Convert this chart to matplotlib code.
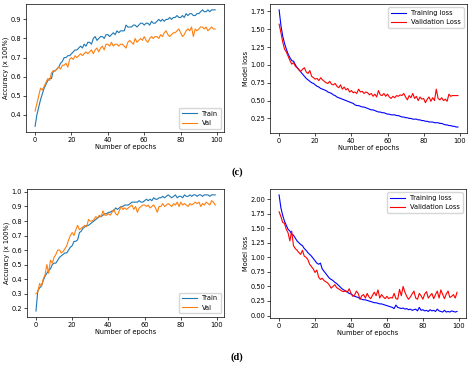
import numpy as np
import matplotlib
matplotlib.use('Agg')
import matplotlib.pyplot as plt

epochs = np.arange(100)

# (c) accuracy
train_acc_c = [0.34, 0.40, 0.44, 0.48, 0.51, 0.54, 0.56, 0.58, 0.59, 0.59,
               0.63, 0.63, 0.64, 0.65, 0.67, 0.68, 0.70, 0.70, 0.71, 0.71,
               0.72, 0.73, 0.74, 0.74, 0.75, 0.76, 0.75, 0.77, 0.76, 0.78,
               0.78, 0.77, 0.80, 0.81, 0.79, 0.80, 0.81, 0.81, 0.80, 0.82,
               0.82, 0.81, 0.82, 0.83, 0.82, 0.84, 0.83, 0.84, 0.84, 0.84,
               0.87, 0.86, 0.86, 0.86, 0.87, 0.87, 0.86, 0.87, 0.88, 0.88,
               0.87, 0.88, 0.88, 0.87, 0.89, 0.88, 0.88, 0.89, 0.90, 0.89,
               0.90, 0.89, 0.90, 0.90, 0.91, 0.90, 0.91, 0.91, 0.92, 0.91,
               0.91, 0.92, 0.91, 0.93, 0.92, 0.93, 0.93, 0.92, 0.92, 0.93,
               0.93, 0.94, 0.95, 0.94, 0.94, 0.95, 0.94, 0.95, 0.95, 0.95]
val_acc_c = [0.42, 0.46, 0.50, 0.54, 0.53, 0.55, 0.57, 0.59, 0.58, 0.62,
             0.63, 0.63, 0.64, 0.65, 0.64, 0.66, 0.66, 0.67, 0.65, 0.69,
             0.70, 0.69, 0.71, 0.70, 0.71, 0.72, 0.71, 0.72, 0.73, 0.72,
             0.73, 0.74, 0.72, 0.74, 0.75, 0.73, 0.75, 0.76, 0.74, 0.77,
             0.77, 0.76, 0.78, 0.76, 0.77, 0.77, 0.76, 0.77, 0.77, 0.76,
             0.75, 0.78, 0.79, 0.78, 0.77, 0.80, 0.78, 0.79, 0.80, 0.79,
             0.81, 0.79, 0.78, 0.80, 0.81, 0.80, 0.81, 0.81, 0.80, 0.82,
             0.81, 0.83, 0.84, 0.82, 0.81, 0.82, 0.83, 0.83, 0.84, 0.85,
             0.83, 0.81, 0.82, 0.84, 0.85, 0.84, 0.86, 0.81, 0.85, 0.84,
             0.85, 0.86, 0.86, 0.85, 0.86, 0.84, 0.85, 0.86, 0.85, 0.85]

# (c) loss
train_loss_c = [1.77, 1.55, 1.40, 1.30, 1.22, 1.15, 1.10, 1.06, 1.05, 1.00,
                0.96, 0.93, 0.90, 0.87, 0.84, 0.81, 0.79, 0.77, 0.75, 0.74,
                0.72, 0.70, 0.69, 0.67, 0.66, 0.65, 0.64, 0.62, 0.61, 0.60,
                0.58, 0.57, 0.55, 0.54, 0.53, 0.52, 0.51, 0.50, 0.49, 0.48,
                0.47, 0.46, 0.44, 0.43, 0.43, 0.42, 0.41, 0.41, 0.40, 0.39,
                0.38, 0.37, 0.37, 0.36, 0.35, 0.34, 0.34, 0.33, 0.33, 0.32,
                0.31, 0.31, 0.30, 0.30, 0.30, 0.29, 0.29, 0.28, 0.27, 0.27,
                0.26, 0.26, 0.25, 0.25, 0.24, 0.24, 0.24, 0.23, 0.23, 0.22,
                0.22, 0.21, 0.21, 0.20, 0.20, 0.20, 0.19, 0.19, 0.19, 0.18,
                0.18, 0.17, 0.16, 0.16, 0.15, 0.15, 0.14, 0.14, 0.13, 0.13]
val_loss_c = [1.57, 1.45, 1.32, 1.22, 1.18, 1.12, 1.06, 1.01, 1.03, 0.98,
              0.96, 0.93, 0.91, 0.94, 0.96, 0.90, 0.88, 0.92, 0.84, 0.82,
              0.80, 0.81, 0.78, 0.82, 0.79, 0.77, 0.75, 0.74, 0.77, 0.73,
              0.72, 0.74, 0.70, 0.68, 0.72, 0.66, 0.69, 0.65, 0.67, 0.62,
              0.64, 0.61, 0.62, 0.60, 0.66, 0.62, 0.63, 0.60, 0.62, 0.61,
              0.58, 0.60, 0.56, 0.59, 0.55, 0.64, 0.58, 0.57, 0.60, 0.56,
              0.59, 0.55, 0.53, 0.56, 0.54, 0.57, 0.56, 0.58, 0.57, 0.60,
              0.55, 0.51, 0.57, 0.54, 0.60, 0.53, 0.56, 0.50, 0.55, 0.52,
              0.53, 0.47, 0.52, 0.55, 0.49, 0.54, 0.50, 0.66, 0.53, 0.51,
              0.54, 0.50, 0.52, 0.49, 0.59, 0.56, 0.57, 0.57, 0.57, 0.57]

# (d) accuracy
train_acc_d = [0.18, 0.32, 0.34, 0.35, 0.39, 0.42, 0.44, 0.46, 0.47, 0.50,
               0.51, 0.51, 0.53, 0.55, 0.56, 0.57, 0.58, 0.58, 0.60, 0.62,
               0.63, 0.66, 0.66, 0.67, 0.72, 0.73, 0.75, 0.76, 0.77, 0.77,
               0.78, 0.79, 0.80, 0.81, 0.82, 0.83, 0.83, 0.84, 0.85, 0.85,
               0.86, 0.86, 0.87, 0.87, 0.89, 0.88, 0.89, 0.90, 0.90, 0.91,
               0.91, 0.91, 0.92, 0.93, 0.93, 0.93, 0.93, 0.94, 0.93, 0.93,
               0.94, 0.95, 0.94, 0.95, 0.94, 0.96, 0.95, 0.95, 0.96, 0.96,
               0.97, 0.96, 0.97, 0.98, 0.97, 0.96, 0.97, 0.98, 0.96, 0.97,
               0.97, 0.96, 0.98, 0.97, 0.97, 0.98, 0.97, 0.98, 0.98, 0.97,
               0.98, 0.98, 0.97, 0.98, 0.98, 0.98, 0.97, 0.98, 0.98, 0.98]
val_acc_d = [0.30, 0.31, 0.37, 0.35, 0.40, 0.43, 0.50, 0.44, 0.53, 0.51,
             0.55, 0.57, 0.60, 0.60, 0.58, 0.59, 0.61, 0.63, 0.67, 0.70,
             0.72, 0.70, 0.74, 0.77, 0.74, 0.75, 0.76, 0.77, 0.76, 0.81,
             0.80, 0.80, 0.81, 0.83, 0.82, 0.84, 0.83, 0.87, 0.84, 0.84,
             0.85, 0.84, 0.86, 0.88, 0.85, 0.84, 0.87, 0.90, 0.88, 0.89,
             0.88, 0.89, 0.90, 0.91, 0.88, 0.90, 0.86, 0.89, 0.90, 0.91,
             0.91, 0.90, 0.91, 0.89, 0.90, 0.91, 0.89, 0.86, 0.90, 0.90,
             0.92, 0.90, 0.91, 0.92, 0.91, 0.90, 0.92, 0.91, 0.93, 0.90,
             0.93, 0.91, 0.92, 0.91, 0.90, 0.92, 0.91, 0.92, 0.93, 0.92,
             0.93, 0.90, 0.92, 0.91, 0.93, 0.92, 0.91, 0.94, 0.93, 0.91]

# (d) loss
train_loss_d = [2.07, 1.85, 1.72, 1.62, 1.55, 1.48, 1.45, 1.40, 1.38, 1.33,
                1.28, 1.25, 1.22, 1.20, 1.15, 1.12, 1.08, 1.05, 1.02, 0.98,
                0.94, 0.90, 0.88, 0.90, 0.80, 0.76, 0.72, 0.68, 0.64, 0.62,
                0.60, 0.57, 0.55, 0.52, 0.49, 0.46, 0.44, 0.42, 0.40, 0.38,
                0.37, 0.35, 0.33, 0.32, 0.31, 0.29, 0.28, 0.27, 0.27, 0.26,
                0.25, 0.24, 0.23, 0.22, 0.22, 0.21, 0.20, 0.20, 0.19, 0.18,
                0.17, 0.16, 0.15, 0.14, 0.12, 0.18, 0.14, 0.13, 0.12, 0.13,
                0.11, 0.12, 0.10, 0.11, 0.09, 0.10, 0.11, 0.08, 0.14, 0.09,
                0.10, 0.08, 0.09, 0.07, 0.10, 0.08, 0.09, 0.07, 0.11, 0.08,
                0.07, 0.06, 0.09, 0.06, 0.07, 0.06, 0.08, 0.07, 0.06, 0.07]
val_loss_d = [1.78, 1.70, 1.60, 1.58, 1.48, 1.42, 1.28, 1.45, 1.20, 1.15,
              1.12, 1.08, 1.05, 1.12, 1.02, 1.00, 0.96, 0.88, 0.84, 0.80,
              0.74, 0.78, 0.66, 0.62, 0.64, 0.60, 0.58, 0.56, 0.52, 0.47,
              0.50, 0.53, 0.48, 0.46, 0.44, 0.42, 0.41, 0.43, 0.40, 0.46,
              0.38, 0.33, 0.35, 0.42, 0.38, 0.28, 0.34, 0.36, 0.30, 0.38,
              0.32, 0.29, 0.35, 0.40, 0.34, 0.44, 0.30, 0.36, 0.32, 0.29,
              0.33, 0.29, 0.31, 0.30, 0.38, 0.29, 0.28, 0.45, 0.34, 0.50,
              0.40, 0.33, 0.28, 0.32, 0.37, 0.42, 0.30, 0.28, 0.38, 0.34,
              0.28, 0.37, 0.41, 0.30, 0.34, 0.38, 0.29, 0.36, 0.42, 0.30,
              0.44, 0.36, 0.29, 0.37, 0.42, 0.31, 0.33, 0.36, 0.30, 0.40]

FS = 4.8
LW = 0.8


def style(ax):
    ax.set_xticks([0, 20, 40, 60, 80, 100])
    ax.tick_params(labelsize=FS, length=2, width=0.5, pad=1.5)
    for s in ax.spines.values():
        s.set_linewidth(0.5)


def acc_panel(ax, train, val):
    ax.plot(epochs, train, lw=LW, label='Train')
    ax.plot(epochs, val, lw=LW, label='Val')
    ax.set_xlabel('Number of epochs', fontsize=FS, labelpad=1)
    ax.set_ylabel('Accuracy (x 100%)', fontsize=FS, labelpad=1)
    ax.legend(loc='lower right', fontsize=FS, handlelength=2.2)
    style(ax)


def loss_panel(ax, train, val):
    ax.plot(epochs, train, color='blue', lw=LW, label='Training loss')
    ax.plot(epochs, val, color='red', lw=LW, label='Validation Loss')
    ax.set_xlabel('Number of epochs', fontsize=FS, labelpad=1)
    ax.set_ylabel('Model loss', fontsize=FS, labelpad=1)
    ax.legend(loc='upper right', fontsize=FS, handlelength=2.2)
    style(ax)


fig = plt.figure(figsize=(4.74, 3.65), dpi=100)

ax1 = fig.add_axes([0.055, 0.638, 0.418, 0.351])
ax2 = fig.add_axes([0.570, 0.636, 0.415, 0.353])
ax3 = fig.add_axes([0.057, 0.132, 0.416, 0.350])
ax4 = fig.add_axes([0.570, 0.129, 0.413, 0.353])

acc_panel(ax1, train_acc_c, val_acc_c)
loss_panel(ax2, train_loss_c, val_loss_c)
acc_panel(ax3, train_acc_d, val_acc_d)
loss_panel(ax4, train_loss_d, val_loss_d)

fig.text(0.5, 0.529, '(c)', ha='center', va='center', fontsize=7.5,
         family='Liberation Serif', weight='bold')
fig.text(0.5, 0.022, '(d)', ha='center', va='center', fontsize=7.5,
         family='Liberation Serif', weight='bold')

fig.savefig('out.png', dpi=100)
